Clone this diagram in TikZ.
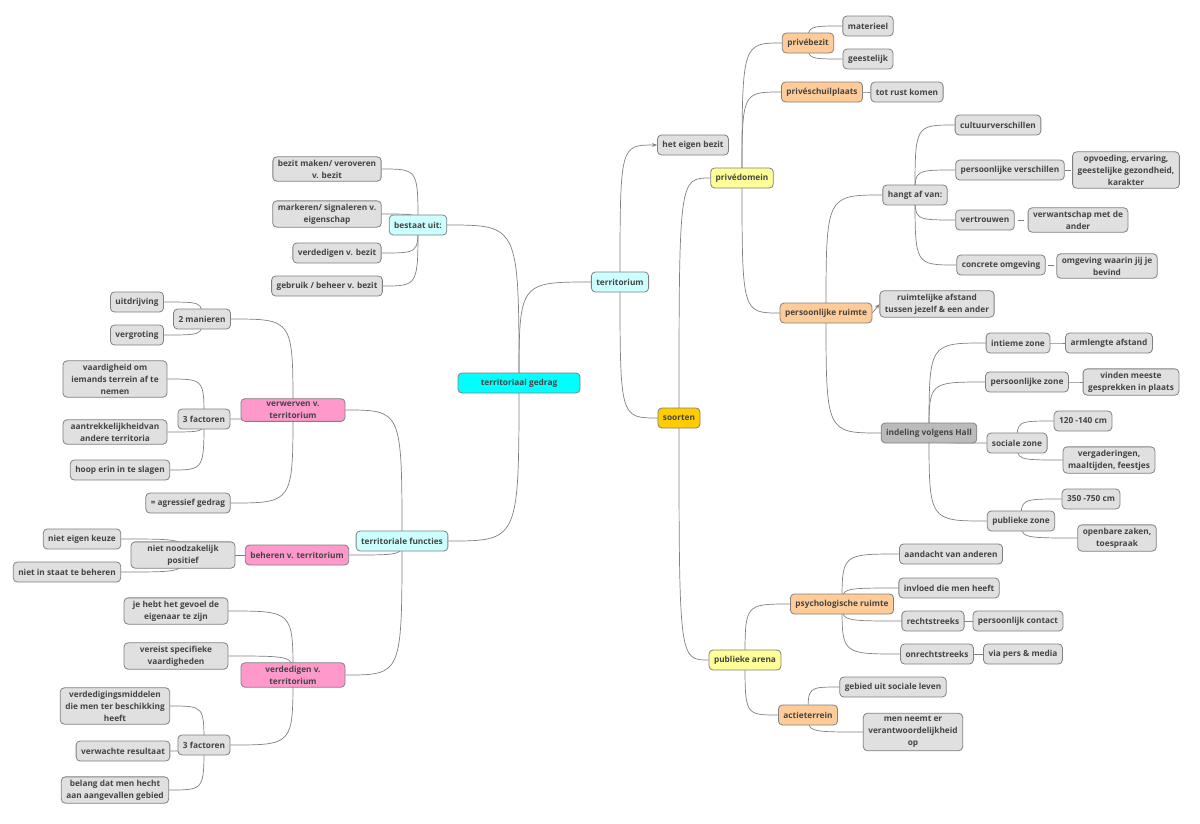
\documentclass[tikz,border=0pt]{standalone}
\usepackage{fontspec}
\setmainfont{Open Sans}
\usetikzlibrary{backgrounds,arrows.meta}
\definecolor{gbox}{HTML}{E0E0E0}
\definecolor{gline}{HTML}{808080}
\definecolor{txt}{HTML}{444444}
\definecolor{ccen}{HTML}{00FFFF}
\definecolor{clc}{HTML}{CCFFFF}
\definecolor{cyl}{HTML}{FFFF99}
\definecolor{cog}{HTML}{FFCC99}
\definecolor{cpk}{HTML}{FF99CC}
\definecolor{cgd}{HTML}{FFCC00}
\definecolor{cdk}{HTML}{BBBBBB}
\tikzset{
 bx/.style={draw=gline,line width=0.8pt,rounded corners=4pt,fill=gbox,text=txt,align=center,inner xsep=5pt,inner ysep=3pt,minimum height=20pt,font=\fontsize{8.3}{12}\selectfont\bfseries},
 cy/.style={bx,fill=clc},
 cen/.style={bx,fill=ccen},
 yl/.style={bx,fill=cyl},
 og/.style={bx,fill=cog},
 pk/.style={bx,fill=cpk,minimum width=104pt},
 gd/.style={bx,fill=cgd},
 dk/.style={bx,fill=cdk},
 wb/.style={bx,minimum width=104pt},
 conn/.style={draw=gline,line width=0.7pt},
}
\newcommand\cR[2]{\draw[conn] (#1.center) .. controls (#1.center |- #2.west) .. (#2.west);}
\newcommand\cL[2]{\draw[conn] (#1.center) .. controls (#1.center |- #2.east) .. (#2.east);}
\newcommand\dsh[2]{\draw[conn] ($(#1.east)!0.5!(#2.west)$) ++(-3,0) -- ++(6,0);}
\usetikzlibrary{calc}
\begin{document}
\begin{tikzpicture}[x=1pt,y=-1pt]
\useasboundingbox (0,0) rectangle (1200,823);
\node[cen,minimum width=122pt] (root) at (519,383) {territoriaal gedrag};
\node[cy] (terr) at (620,282) {territorium};
\node[gd] (soort) at (679,418) {soorten};
\node[bx] (eigen) at (693,145) {het eigen bezit};
\node[yl] (prive) at (742,178) {privédomein};
\node[yl] (publ) at (745,660) {publieke arena};
\node[og] (pbez) at (808,43) {privébezit};
\node[bx] (mat) at (868,26) {materieel};
\node[bx] (gees) at (868,59) {geestelijk};
\node[og] (pschu) at (822,92) {privéschuilplaats};
\node[bx] (rust) at (907,92) {tot rust komen};
\node[og] (pruim) at (826,313) {persoonlijke ruimte};
\node[bx] (ruimt) at (937,304) {ruimtelijke afstand\\tussen jezelf \& een ander};
\node[bx] (hangt) at (915,195) {hangt af van:};
\node[bx] (cult) at (998,125) {cultuurverschillen};
\node[bx] (pvers) at (1010,170) {persoonlijke verschillen};
\node[bx] (opvo) at (1126,170) {opvoeding, ervaring,\\geestelijke gezondheid,\\karakter};
\node[bx] (vert) at (985,220) {vertrouwen};
\node[bx] (verw) at (1078,220) {verwantschap met de\\ander};
\node[bx] (conc) at (1001,265) {concrete omgeving};
\node[bx] (omg) at (1107,266) {omgeving waarin jij je\\bevind};
\node[dk] (hall) at (929,433) {indeling volgens Hall};
\node[bx] (intz) at (1018,343) {intieme zone};
\node[bx] (arm) at (1109,343) {armlengte afstand};
\node[bx] (pzon) at (1027,382) {persoonlijke zone};
\node[bx] (vind) at (1131,382) {vinden meeste\\gesprekken in plaats};
\node[bx] (socz) at (1017,443) {sociale zone};
\node[bx] (c120) at (1083,421) {120 -140 cm};
\node[bx] (verg) at (1109,460) {vergaderingen,\\maaltijden, feestjes};
\node[bx] (pubz) at (1021,521) {publieke zone};
\node[bx] (c350) at (1091,499) {350 -750 cm};
\node[bx] (openb) at (1117,538) {openbare zaken,\\toespraak};
\node[og] (psy) at (842,604) {psychologische ruimte};
\node[bx] (aand) at (951,554) {aandacht van anderen};
\node[bx] (invl) at (949,588) {invloed die men heeft};
\node[bx] (recht) at (933,621) {rechtstreeks};
\node[bx] (pcon) at (1018,621) {persoonlijk contact};
\node[bx] (onre) at (937,654) {onrechtstreeks};
\node[bx] (pers) at (1023,654) {via pers \& media};
\node[og] (actie) at (808,715) {actieterrein};
\node[bx] (gebi) at (893,687) {gebied uit sociale leven};
\node[bx,minimum width=96pt] (mnee) at (913,732) {men neemt er\\verantwoordelijkheid\\op};
% left
\node[cy] (best) at (418,225) {bestaat uit:};
\node[wb] (bmak) at (327,169) {bezit maken/ veroveren\\v. bezit};
\node[wb] (mark) at (327,214) {markeren/ signaleren v.\\eigenschap};
\node[bx] (verdb) at (337,253) {verdedigen v. bezit};
\node[wb] (gebr) at (327,286) {gebruik / beheer v. bezit};
\node[cy] (tfun) at (402,541) {territoriale functies};
\node[pk] (verw2) at (293,410) {verwerven v.\\territorium};
\node[bx] (man) at (202,319) {2 manieren};
\node[bx] (uitd) at (137,302) {uitdrijving};
\node[bx] (vgro) at (137,335) {vergroting};
\node[bx] (fac1) at (204,419) {3 factoren};
\node[wb] (vaar) at (115,379) {vaardigheid om\\iemands terrein af te\\nemen};
\node[wb] (aant) at (115,432) {aantrekkelijkheidvan\\andere territoria};
\node[bx] (hoop) at (120,470) {hoop erin in te slagen};
\node[bx] (agr) at (188,503) {= agressief gedrag};
\node[pk,minimum width=0pt] (beh) at (297,555) {beheren v. territorium};
\node[wb] (nnp) at (183,555) {niet noodzakelijk\\positief};
\node[bx] (nek) at (82,539) {niet eigen keuze};
\node[bx] (nis) at (67,572) {niet in staat te beheren};
\node[pk] (verd) at (293,675) {verdedigen v.\\territorium};
\node[wb] (jeh) at (176,611) {je hebt het gevoel de\\eigenaar te zijn};
\node[wb] (vere) at (176,656) {vereist specifieke\\vaardigheden};
\node[bx] (fac2) at (204,745) {3 factoren};
\node[wb] (vmid) at (115,706) {verdedigingsmiddelen\\die men ter beschikking\\heeft};
\node[bx] (verwa) at (123,751) {verwachte resultaat};
\node[wb] (bela) at (115,790) {belang dat men hecht\\aan aangevallen gebied};
\begin{pgfonlayer}{background}
\cR{root}{terr} \cL{root}{best} \cL{root}{tfun}
\draw[conn,-{Stealth[length=5pt]}] (terr.center) .. controls (terr.center |- eigen.west) .. (eigen.west);
\cR{terr}{soort}
\cR{soort}{prive} \cR{soort}{publ}
\cR{prive}{pbez} \cR{prive}{pschu} \cR{prive}{pruim}
\cR{pbez}{mat} \cR{pbez}{gees} \cR{pschu}{rust}
\draw[conn,-{Stealth[length=5pt]}] (pruim.east) -- (ruimt.west);
\cR{pruim}{hangt} \cR{pruim}{hall}
\cR{hangt}{cult} \cR{hangt}{pvers} \cR{hangt}{vert} \cR{hangt}{conc}
\dsh{pvers}{opvo} \dsh{vert}{verw} \dsh{conc}{omg}
\cR{hall}{intz} \cR{hall}{pzon} \cR{hall}{socz} \cR{hall}{pubz}
\cR{intz}{arm} \cR{pzon}{vind}
\cR{socz}{c120} \cR{socz}{verg} \cR{pubz}{c350} \cR{pubz}{openb}
\cR{publ}{psy} \cR{publ}{actie}
\cR{psy}{aand} \cR{psy}{invl} \cR{psy}{recht} \cR{psy}{onre}
\cR{recht}{pcon} \cR{onre}{pers}
\cR{actie}{gebi} \cR{actie}{mnee}
\cL{best}{bmak} \cL{best}{mark} \cL{best}{verdb} \cL{best}{gebr}
\cL{tfun}{verw2} \cL{tfun}{beh} \cL{tfun}{verd}
\cL{verw2}{man} \cL{verw2}{fac1} \cL{verw2}{agr}
\cL{man}{uitd} \cL{man}{vgro}
\cL{fac1}{vaar} \cL{fac1}{aant} \cL{fac1}{hoop}
\cL{beh}{nnp} \cL{nnp}{nek} \cL{nnp}{nis}
\cL{verd}{jeh} \cL{verd}{vere} \cL{verd}{fac2}
\cL{fac2}{vmid} \cL{fac2}{verwa} \cL{fac2}{bela}
\end{pgfonlayer}
\end{tikzpicture}
\end{document}
